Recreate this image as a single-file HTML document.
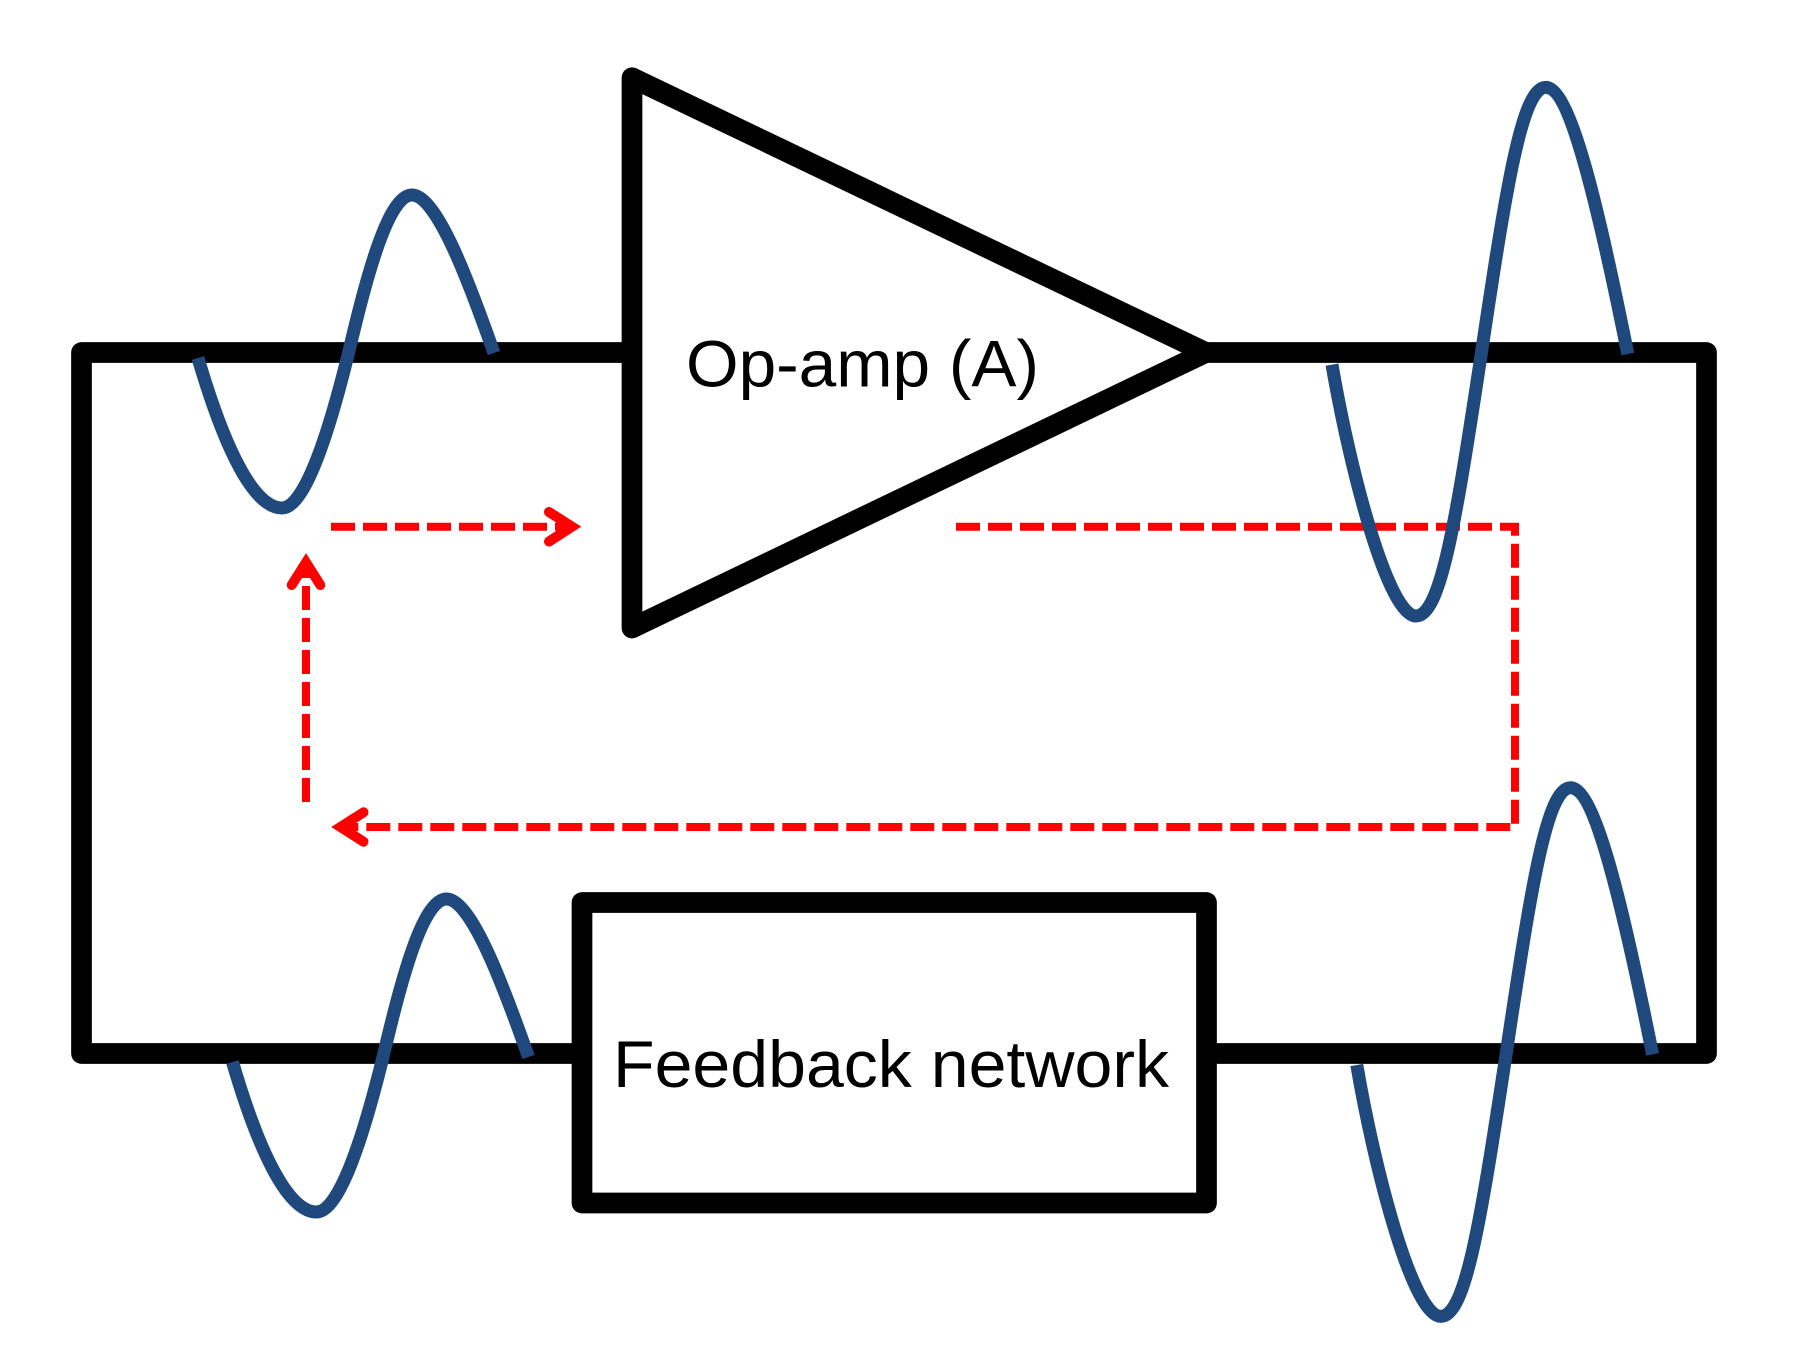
<!DOCTYPE html>
<html>
<head>
<meta charset="utf-8">
<style>
html,body{margin:0;padding:0;background:#fff;}
svg{display:block;}
text{font-family:"Liberation Sans",sans-serif;font-size:66px;fill:#000;}
</style>
</head>
<body>
<svg width="1797" height="1349" viewBox="0 0 1797 1349" xmlns="http://www.w3.org/2000/svg">
<defs>
<path id="s1" d="M198,358 C225,450 254,508 282,508 C306,508 331,424 348.5,353 C365,284 387,195 412,195 C437,195 470,285 494,353"/>
<path id="s2" d="M1332,364.6 C1350,470 1388,616 1416,616 C1441,616 1456,520 1481.4,353 C1506.4,186 1522,87.4 1545.7,87.4 C1571,87.4 1600,215 1627.8,354"/>
</defs>
<rect width="1797" height="1349" fill="#fff"/>

<g fill="none" stroke="#000" stroke-width="20.7" stroke-linejoin="round">
<rect x="81.5" y="352.5" width="1625" height="701" />
<path fill="#fff" d="M632,77.7 L1205.7,352.5 L632,628 Z"/>
<rect fill="#fff" x="582" y="902.5" width="624.5" height="300.5"/>
</g>

<text x="686" y="386.5" textLength="353" lengthAdjust="spacingAndGlyphs">Op-amp (A)</text>
<text x="613" y="1087" textLength="556" lengthAdjust="spacingAndGlyphs">Feedback network</text>

<g fill="none" stroke="#f00" stroke-width="8">
<path stroke-dasharray="24 8" d="M331,526.7 L571,526.7"/>
<path stroke-dasharray="24 8" d="M306,802 L306,560"/>
<path stroke-dasharray="24 8" d="M956,526.7 L1515,526.7 L1515,827 L345,827"/>
</g>
<g fill="none" stroke="#f00" stroke-width="10" stroke-linecap="round">
<path d="M549,512 L572,526.7 L549,541.5"/>
<path d="M291.7,585 L306,562.5 L320.3,585"/>
<path d="M363.5,812.3 L340.5,827 L363.5,841.7"/>
</g>

<g fill="none" stroke="#1F497D" stroke-width="13">
<use href="#s1"/>
<use href="#s1" transform="translate(34.5,704)"/>
<use href="#s2"/>
<use href="#s2" transform="translate(24.8,700.4)"/>
</g>
</svg>
</body>
</html>
